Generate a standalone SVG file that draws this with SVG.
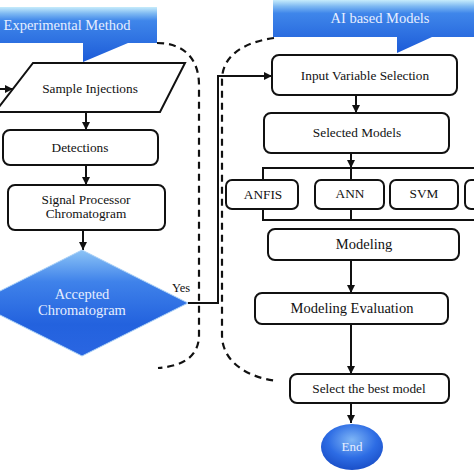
<svg xmlns="http://www.w3.org/2000/svg" width="474" height="474" viewBox="0 0 474 474">
<style>
.box{fill:#fff;stroke:#111;stroke-width:2}
.t{font-family:"Liberation Serif","Times New Roman",serif;font-size:13.3px;fill:#111;text-anchor:middle}
.tl{font-size:14.5px}
.wt{font-family:"Liberation Serif","Times New Roman",serif;font-size:14.5px;fill:#e6eeff;text-anchor:middle}
.ln{fill:none;stroke:#111;stroke-width:2}
.dash{fill:none;stroke:#111;stroke-width:2.2;stroke-dasharray:7 5}
</style>
<defs>
<marker id="ah" markerUnits="userSpaceOnUse" markerWidth="9" markerHeight="9" refX="8" refY="4" orient="auto">
<path d="M0,0 L8,4 L0,8 Z" fill="#111"/>
</marker>
<linearGradient id="bg" x1="0" y1="0" x2="0" y2="1">
<stop offset="0" stop-color="#c6ecfb"/>
<stop offset="0.12" stop-color="#7db8f2"/>
<stop offset="0.25" stop-color="#3f86ea"/>
<stop offset="1" stop-color="#1c5bd8"/>
</linearGradient>
<linearGradient id="dg" x1="0" y1="0" x2="0" y2="1">
<stop offset="0" stop-color="#8cc4f6"/>
<stop offset="0.3" stop-color="#3f82ea"/>
<stop offset="0.7" stop-color="#2362de"/>
<stop offset="1" stop-color="#2a66e2"/>
</linearGradient>
<radialGradient id="eg" cx="0.5" cy="0.35" r="0.65">
<stop offset="0" stop-color="#7fb6f6"/>
<stop offset="0.6" stop-color="#2d6ce4"/>
<stop offset="1" stop-color="#1a4fc8"/>
</radialGradient>
</defs>

<g id="banner-left">
<path d="M0,7 H157 V43 H128 L83,62 V43 H0 Z" fill="url(#bg)"/>
<text class="wt" x="67" y="30">Experimental Method</text>
</g>
<g id="banner-right">
<path d="M273,0 H474 V37 H432 L397,53 V37 H273 Z" fill="url(#bg)"/>
<text class="wt" x="380" y="23">AI based Models</text>
</g>

<g id="regions">
<path class="dash" d="M157,43 C185,43 199,60 199,85 L199,335 C199,355 185,366 158,368"/>
<path class="dash" d="M274,38 C245,42 222,55 222,80 L222,335 C222,362 248,378 278,381"/>
</g>

<g id="connectors">
<path class="ln" d="M0,89 H13" marker-end="url(#ah)"/>
<path class="ln" d="M86,112 V130" marker-end="url(#ah)"/>
<path class="ln" d="M86,165 V185" marker-end="url(#ah)"/>
<path class="ln" d="M83,230 V250" marker-end="url(#ah)"/>
<path class="ln" d="M188,303 H218 V76 H272" marker-end="url(#ah)"/>
<path class="ln" d="M356,95 V113" marker-end="url(#ah)"/>
<path class="ln" d="M351,153 V168" marker-end="url(#ah)"/>
<path class="ln" d="M474,168 H263 V220 H474"/>
<path class="ln" d="M351,168 V220"/>
<path class="ln" d="M351,260 V293" marker-end="url(#ah)"/>
<path class="ln" d="M351,324 V374" marker-end="url(#ah)"/>
<path class="ln" d="M351,403 V423" marker-end="url(#ah)"/>
<text class="t" x="181" y="292" style="font-size:12.5px">Yes</text>
</g>

<g id="sample-injections">
<path class="box" d="M33,63 H185 L160,112 H-5 Z"/>
<text class="t" x="90" y="93">Sample Injections</text>
</g>
<g id="detections">
<rect class="box" x="3" y="130" width="155" height="35" rx="7"/>
<text class="t" x="80" y="152">Detections</text>
</g>
<g id="signal-processor">
<rect class="box" x="8" y="185" width="157" height="45" rx="7"/>
<text class="t" x="86" y="204">Signal Processor</text>
<text class="t" x="86" y="218">Chromatogram</text>
</g>
<g id="accepted">
<path d="M82,250 L188,303 L82,356 L-24,303 Z" fill="url(#dg)" stroke="#a9d0f7" stroke-width="1"/>
<text class="wt" x="82" y="299">Accepted</text>
<text class="wt" x="82" y="315">Chromatogram</text>
</g>

<g id="input-variable-selection">
<rect class="box" x="272" y="55" width="185" height="40" rx="7"/>
<text class="t" x="365" y="80">Input Variable Selection</text>
</g>
<g id="selected-models">
<rect class="box" x="264" y="113" width="185" height="40" rx="7"/>
<text class="t" x="357" y="137">Selected Models</text>
</g>
<g id="anfis">
<rect class="box" x="226" y="180" width="72" height="29" rx="6"/>
<text class="t" x="263" y="199">ANFIS</text>
</g>
<g id="ann">
<rect class="box" x="315" y="180" width="69" height="29" rx="6"/>
<text class="t" x="350" y="198">ANN</text>
</g>
<g id="svm">
<rect class="box" x="390" y="180" width="68" height="29" rx="6"/>
<text class="t" x="424" y="198">SVM</text>
</g>
<g id="model-4">
<rect class="box" x="465" y="180" width="40" height="29" rx="6"/>
</g>
<g id="modeling">
<rect class="box" x="268" y="229" width="191" height="31" rx="7"/>
<text class="t tl" x="364" y="249">Modeling</text>
</g>
<g id="modeling-evaluation">
<rect class="box" x="255" y="293" width="193" height="31" rx="7"/>
<text class="t tl" x="352" y="313">Modeling Evaluation</text>
</g>
<g id="select-best">
<rect class="box" x="290" y="374" width="159" height="29" rx="7"/>
<text class="t" x="369" y="393">Select the best model</text>
</g>
<g id="end">
<ellipse cx="352" cy="447" rx="31" ry="23" fill="url(#eg)"/>
<text class="wt" x="352" y="451" style="font-size:13px">End</text>
</g>
</svg>
